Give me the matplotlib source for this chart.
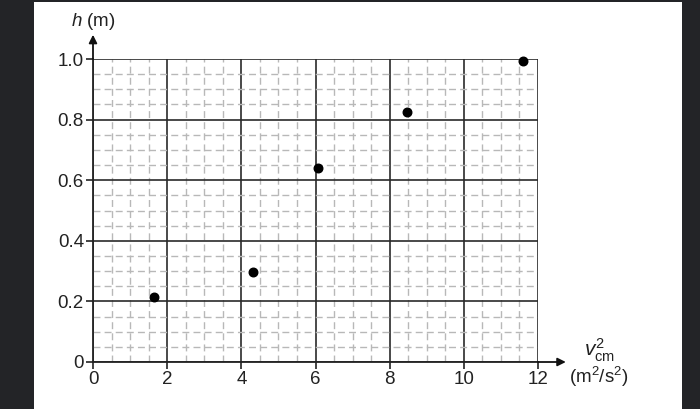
import matplotlib
matplotlib.use("Agg")
import matplotlib.pyplot as plt
from matplotlib.patches import Rectangle
from matplotlib.ticker import MultipleLocator

# data
v2_values = [1.65, 4.32, 6.08, 8.48, 11.6]
h_values = [0.214, 0.296, 0.639, 0.826, 0.995]
x_ticks = [0, 2, 4, 6, 8, 10, 12]
y_ticks = [0, 0.2, 0.4, 0.6, 0.8, 1.0]
y_tick_labels = ["0", "0.2", "0.4", "0.6", "0.8", "1.0"]

plt.rcParams["font.family"] = ["Liberation Sans", "DejaVu Sans"]
plt.rcParams["mathtext.fontset"] = "custom"
plt.rcParams["mathtext.rm"] = "Liberation Sans"
plt.rcParams["mathtext.it"] = "Liberation Sans:italic"

fig = plt.figure(figsize=(7.0, 4.09), dpi=100, facecolor="#232427")
# white page between the dark side bars
fig.patches.append(Rectangle((34 / 700, 0), (682 - 34) / 700, 407 / 409,
                             transform=fig.transFigure, facecolor="white",
                             edgecolor="none", zorder=-10))

ax = fig.add_axes([93 / 700, 47 / 409, 445 / 700, 303 / 409])
ax.set_facecolor("white")
ax.set_xlim(0, 12)
ax.set_ylim(0, 1.0)

# graph paper grid
ax.xaxis.set_minor_locator(MultipleLocator(0.5))
ax.yaxis.set_minor_locator(MultipleLocator(0.05))
ax.grid(which="minor", color="#b8b8b8", linestyle=(0, (5, 3)), linewidth=1.0)
ax.grid(which="major", color="#2a2a2a", linestyle="-", linewidth=1.2)
ax.set_axisbelow(True)

ax.scatter(v2_values, h_values, s=38, color="black", zorder=5, clip_on=False)

ax.set_xticks(x_ticks)
ax.set_yticks(y_ticks)
ax.set_yticklabels(y_tick_labels)
ax.tick_params(which="major", direction="out", length=5, width=1.2,
               labelsize=13.5, colors="#222222", pad=1.5)
ax.tick_params(which="minor", length=0)

for side in ["top", "right"]:
    ax.spines[side].set_visible(False)
for side in ["left", "bottom"]:
    ax.spines[side].set_linewidth(1.3)
    ax.spines[side].set_color("#222222")

# axis arrows
ax.annotate("", xy=(0, 1.08), xytext=(0, 1.0), xycoords="data",
            arrowprops=dict(arrowstyle="-|>", color="#111111", lw=1.3,
                            mutation_scale=12, shrinkA=0, shrinkB=0),
            annotation_clip=False)
ax.annotate("", xy=(12.75, 0), xytext=(12, 0), xycoords="data",
            arrowprops=dict(arrowstyle="-|>", color="#111111", lw=1.3,
                            mutation_scale=12, shrinkA=0, shrinkB=0),
            annotation_clip=False)

# axis labels
ax.text(0, 1.125, r"$h$ (m)", fontsize=13.5, ha="center", va="center",
        color="#222222", clip_on=False)
ax.text(13.65, 0.04, r"$v^{2}_{\rm cm}$", fontsize=15, ha="center",
        va="center", color="#222222", clip_on=False)
ax.text(13.65, -0.05, r"(m$^{2}$/s$^{2}$)", fontsize=13.5, ha="center",
        va="center", color="#222222", clip_on=False)

fig.savefig("out.png", dpi=100, facecolor=fig.get_facecolor())
